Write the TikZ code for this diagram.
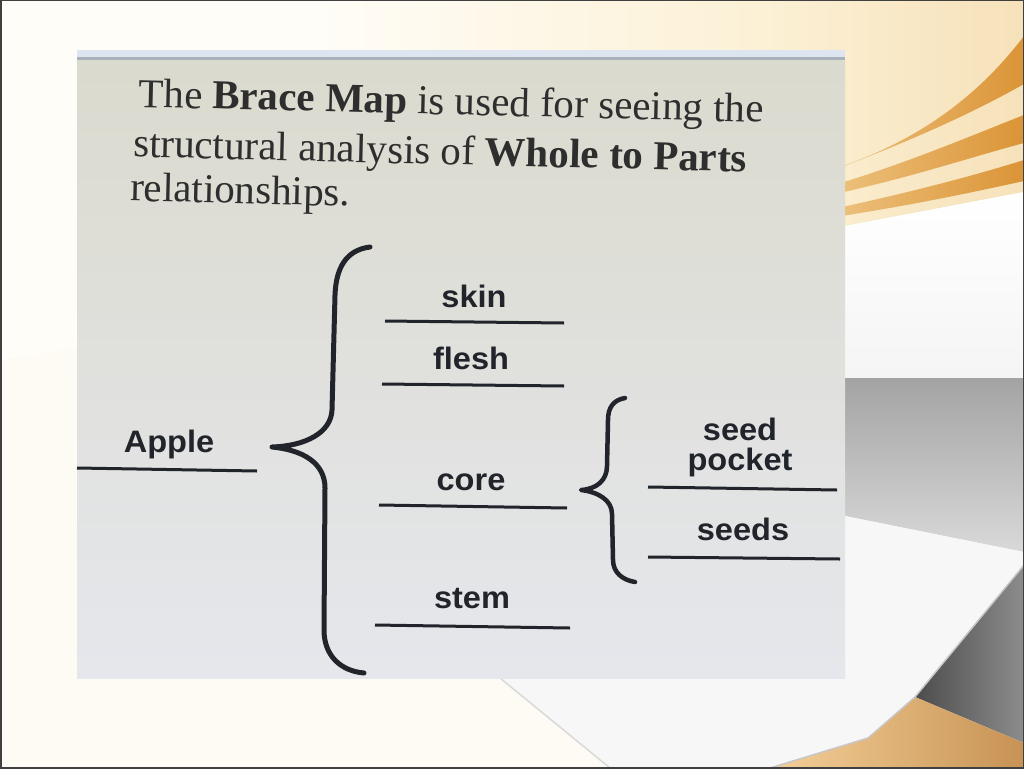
\documentclass[tikz,border=0pt]{standalone}
\usepackage{fontspec}
\setmainfont{Liberation Serif}
\newfontfamily\labelfont[FakeStretch=1.05]{Liberation Sans Bold}
\usepackage{tikz}

\definecolor{slidebg}{HTML}{FDFBF4}
\definecolor{bandA}{HTML}{FFFDF8}
\definecolor{bandB}{HTML}{FCF1D6}
\definecolor{bandC}{HTML}{F3D9AA}
\definecolor{bandD}{HTML}{D29A58}
\definecolor{swooshL}{HTML}{F2CE92}
\definecolor{swooshR}{HTML}{DB9436}
\definecolor{paperTop}{HTML}{DBDACE}
\definecolor{paperBot}{HTML}{E5E7EC}
\definecolor{stripA}{HTML}{DDE5F0}
\definecolor{stripB}{HTML}{A9B1BD}
\definecolor{ink}{HTML}{22242B}
\definecolor{printink}{HTML}{2E2E2E}

\pgfdeclarehorizontalshading{topband}{100bp}{color(0bp)=(bandA); color(40bp)=(bandA); color(62bp)=(bandB); color(82bp)=(bandC); color(100bp)=(bandD)}

\begin{document}
\begin{tikzpicture}[x=1pt, y=-1pt,
  head/.style={font=\fontsize{41}{48}\selectfont, text=printink, inner sep=0pt, align=left},
  part/.style={font=\labelfont\fontsize{31}{32}\selectfont, text=ink, inner sep=0pt, align=center},
  blank/.style={draw=ink, line width=3pt},
  brace/.style={draw=ink, line width=5pt, line cap=round, line join=round},
  swoosh/.style={left color=swooshL, right color=swooshR}]
  \useasboundingbox (0,0) rectangle (1024,768);
  % slide background
  \fill[slidebg] (0,0) rectangle (1024,768);
  \shade[shading=topband] (0,0) -- (1024,0) -- (1024,192) -- (845,226) -- (0,360) -- cycle;
  \shade[swoosh] (780,185) .. controls (880,160) and (960,120) .. (1024,36) -- (1024,84) .. controls (960,120) and (890,150) .. (780,190) -- cycle;
  \shade[swoosh] (780,200) .. controls (880,175) and (960,140) .. (1024,115) -- (1024,143) .. controls (960,160) and (890,185) .. (780,205) -- cycle;
  \shade[swoosh] (780,220) .. controls (880,200) and (960,180) .. (1024,160) -- (1024,181) .. controls (960,195) and (890,210) .. (780,225) -- cycle;
  \shade[top color=white, bottom color=black!4] (845,226) -- (1024,192) -- (1024,378) -- (845,378) -- cycle;
  \shade[top color=black!36, bottom color=black!15] (845,378) -- (1024,378) -- (1024,552) -- (845,516) -- cycle;
  \shade[left color=black!70, right color=black!45] (1024,565) -- (915,697) -- (1024,743) -- cycle;
  \shade[left color=bandC!90!orange, right color=bandD!95!black] (915,697) -- (1024,743) -- (1024,768) -- (770,768) -- (868,738) -- (883,725) -- cycle;
  \fill[black!3] (845,516) -- (1024,552) -- (1024,565) -- (915,697) -- (883,725) -- (868,738) -- (770,768) -- (610,768) -- (500,678) -- (845,678) -- cycle;
  \draw[black!22, line width=1.5pt] (1024,565) -- (915,697) -- (883,725) -- (868,738) -- (770,768);
  \draw[black!15, line width=1.5pt] (500,678) -- (610,768);
  % photo of the page
  \fill[stripA] (77,50) rectangle (845,58);
  \fill[stripB] (77,57) rectangle (845,60);
  \shade[top color=paperTop, bottom color=paperBot] (77,60) rectangle (845,678);
  \node[head, anchor=base west, rotate=-1.4] (intro) at (136,201)
    {The \textbf{Brace Map} is used for seeing the\\[2pt]
     \hspace*{-4pt}structural analysis of \textbf{Whole to Parts}\\[-4pt]
     \hspace*{-6pt}relationships.};
  \node[part, anchor=base] (apple) at (169,452) {Apple};
  \node[part, anchor=base] (skin) at (474,307) {skin};
  \node[part, anchor=base] (flesh) at (471,369) {flesh};
  \node[part, anchor=base] (core) at (471,490) {core};
  \node[part, anchor=base] (stem) at (472,608) {stem};
  \node[part, anchor=base] (pocket) at (740,470) {seed\\[-2pt]pocket};
  \node[part, anchor=base] (seeds) at (743,540) {seeds};
  \draw[blank] (77,468) -- (257,471);
  \draw[blank] (385,321) -- (564,323);
  \draw[blank] (382,384) -- (564,386);
  \draw[blank] (379,505) -- (567,508);
  \draw[blank] (375,625) -- (570,628);
  \draw[blank] (648,487) -- (837,490);
  \draw[blank] (648,557) -- (840,559);
  \coordinate (apple-tip) at (272,447);
  \coordinate (core-tip) at (581,490);
  \draw[brace] (370,247) .. controls (346,250) and (336,268) .. (335,295) -- (332,410)
    .. controls (331,433) and (305,446) .. (apple-tip)
    .. controls (303,450) and (325,463) .. (325,488) -- (324,630)
    .. controls (324,656) and (341,671) .. (364,673);
  \draw[brace, line width=4.5pt] (625,398) .. controls (613,400) and (608,408) .. (608,420) -- (607,466)
    .. controls (607,480) and (597,489) .. (core-tip)
    .. controls (598,492) and (612,500) .. (612,514) -- (613,560)
    .. controls (613,572) and (622,580) .. (635,582);
  \draw[black!75, line width=3pt] (0,0) rectangle (1024,768);
\end{tikzpicture}
\end{document}
